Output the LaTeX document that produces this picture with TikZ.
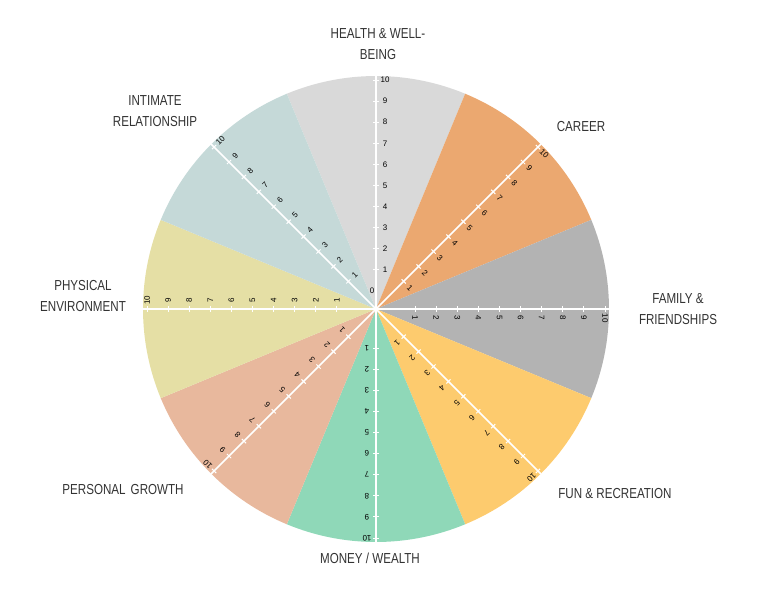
\documentclass[tikz,border=0pt]{standalone}
\usepackage{fontspec}
\setmainfont{Liberation Sans}
\usetikzlibrary{calc}
\definecolor{cHealth}{HTML}{D9D9D9}
\definecolor{cCareer}{HTML}{EBA870}
\definecolor{cFamily}{HTML}{B3B3B3}
\definecolor{cFun}{HTML}{FDCB6E}
\definecolor{cMoney}{HTML}{8FD8B8}
\definecolor{cGrowth}{HTML}{E8B89D}
\definecolor{cPhys}{HTML}{E5DFA5}
\definecolor{cIntim}{HTML}{C5D9D8}
\definecolor{txt}{HTML}{333333}
\begin{document}
\begin{tikzpicture}[x=1pt,y=1pt,
  lbl/.style={font=\fontsize{14.5}{21}\selectfont, text=txt, align=center, xscale=0.8, inner sep=0pt},
  num/.style={font=\fontsize{8}{8}\selectfont, text=black, inner sep=0pt},
  axisline/.style={white, line width=1.5pt}]
\useasboundingbox (0,0) rectangle (768,-602);
\coordinate (O) at (376,-309);
\def\R{233}
\foreach \a/\c in {90/cHealth,45/cCareer,0/cFamily,-45/cFun,-90/cMoney,-135/cGrowth,180/cPhys,135/cIntim}{
  \fill[\c] (O) -- ++(\a-22.5:\R) arc[start angle=\a-22.5, end angle=\a+22.5, radius=\R] -- cycle;
}
\foreach \a in {90,45,0,-45,-90,-135,180,135}{
  \draw[axisline] (O) -- ++(\a:\R);
  \foreach \k in {1,...,10}{
    \pgfmathsetmacro{\r}{18+21.1*\k}
    \draw[white, line width=1pt] ($(O)+(\a:\r)+(\a+90:3)$) -- ($(O)+(\a:\r)+(\a-90:3)$);
    \node[num, rotate=\a-90] at ($(O)+(\a:\r)+(\a-90:9)$) {\k};
  }
}
\node[num] at ($(O)+(90:18)+(0:-4)$) {0};
\node[lbl] (h) at (378,-44) {HEALTH \& WELL-\\BEING};
\node[lbl] (c) at (581,-127) {CAREER};
\node[lbl] (f) at (678,-309) {FAMILY \&\\FRIENDSHIPS};
\node[lbl] (fr) at (615,-494) {FUN \& RECREATION};
\node[lbl] (m) at (370,-558) {MONEY / WEALTH};
\node[lbl] (p) at (123,-490) {PERSONAL\, GROWTH};
\node[lbl] (pe) at (83,-296) {PHYSICAL\\ENVIRONMENT};
\node[lbl] (i) at (155,-111) {INTIMATE\\RELATIONSHIP};
\end{tikzpicture}
\end{document}
